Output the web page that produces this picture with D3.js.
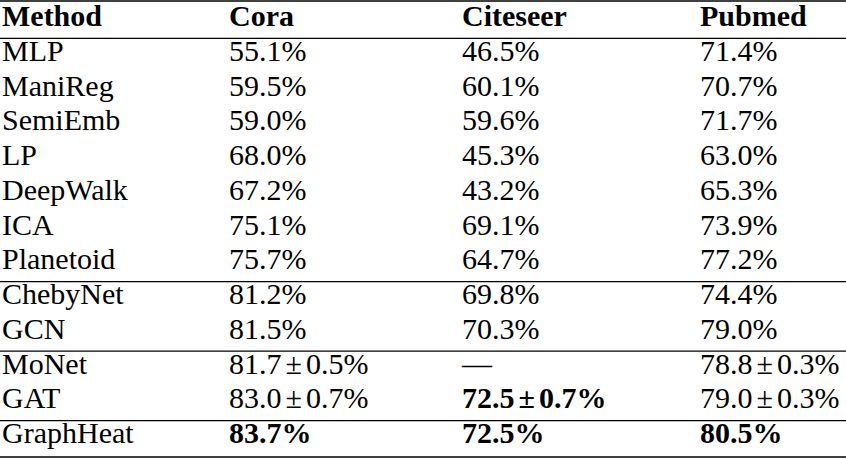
<!DOCTYPE html>
<html>
<head>
<meta charset="utf-8">
<script src="https://cdn.jsdelivr.net/npm/d3@7"></script>
<style>
  body { margin: 0; background: #fff; }
  svg { display: block; }
  text { font-family: "Liberation Serif", "Times New Roman", serif; font-size: 30px; fill: #000; }
</style>
</head>
<body>
<div id="table"></div>
<script>
const headers = ['Method', 'Cora', 'Citeseer', 'Pubmed']
const methods = ['MLP', 'ManiReg', 'SemiEmb', 'LP', 'DeepWalk', 'ICA', 'Planetoid',
                 'ChebyNet', 'GCN', 'MoNet', 'GAT', 'GraphHeat']
const cora = [55.1, 59.5, 59.0, 68.0, 67.2, 75.1, 75.7, 81.2, 81.5, 81.7, 83.0, 83.7]
const citeseer = [46.5, 60.1, 59.6, 45.3, 43.2, 69.1, 64.7, 69.8, 70.3, null, 72.5, 72.5]
const pubmed = [71.4, 70.7, 71.7, 63.0, 65.3, 73.9, 77.2, 74.4, 79.0, 78.8, 79.0, 80.5]
const coraStd = [null, null, null, null, null, null, null, null, null, 0.5, 0.7, null]
const citeseerStd = [null, null, null, null, null, null, null, null, null, null, 0.7, null]
const pubmedStd = [null, null, null, null, null, null, null, null, null, 0.3, 0.3, null]
// rules drawn under these row indices (0 = header)
const groupBreaks = [0, 7, 9, 11]

window.onload = function() {
  let w = 846,
    h = 460;

  const svg = d3.select("#table")
      .append("svg")
        .attr("width", w)
        .attr("height", h)

  let yScale = d3.scaleLinear()
      .domain([0, methods.length])
      .range([26, 443])

  let xScale = d3.scaleOrdinal()
      .domain(headers)
      .range([2, 229, 462, 700])

  let columns = [
    {key: 'Cora', values: cora, std: coraStd},
    {key: 'Citeseer', values: citeseer, std: citeseerStd},
    {key: 'Pubmed', values: pubmed, std: pubmedStd}
  ]

  // header
  svg.append("g").selectAll("text")
      .data(headers)
      .enter().append("text")
        .attr("x", function(d) { return xScale(d); })
        .attr("y", yScale(0))
        .attr("font-weight", "bold")
        .text(function(d) { return d; })

  // method names
  svg.append("g").selectAll("text")
      .data(methods)
      .enter().append("text")
        .attr("x", xScale('Method'))
        .attr("y", function(d, i) { return yScale(i + 1); })
        .text(function(d) { return d; })

  // value cells, best per column in bold
  columns.forEach(function(col) {
    let best = d3.max(col.values)
    let cells = svg.append("g").selectAll("text")
        .data(col.values)
        .enter().append("text")
          .attr("x", xScale(col.key))
          .attr("y", function(d, i) { return yScale(i + 1); })
          .attr("font-weight", function(d) { return d === best ? "bold" : "normal"; })

    cells.each(function(d, i) {
      let t = d3.select(this)
      if (d === null) {
        t.text("\u2014");
        return;
      }
      if (col.std[i] === null) {
        t.text(d.toFixed(1) + "%");
        return;
      }
      // math-style spacing around the ±
      t.append("tspan").text(d.toFixed(1))
      t.append("tspan").attr("dx", 4).text("\u00b1")
      t.append("tspan").attr("dx", 4).text(col.std[i].toFixed(1) + "%")
    })
  })

  // rules
  let step = yScale(1) - yScale(0)
  let rules = groupBreaks.map(function(r) {
    return {y: yScale(r) + step / 2 - 5, width: 1.3};
  })
  rules.push({y: 1, width: 1.6})
  rules.push({y: 457, width: 1.6})

  svg.append("g").selectAll("line")
      .data(rules)
      .enter().append("line")
        .attr("x1", 0)
        .attr("x2", w)
        .attr("y1", function(d) { return d.y; })
        .attr("y2", function(d) { return d.y; })
        .attr("stroke", "#000")
        .attr("stroke-width", function(d) { return d.width; })
}
</script>
</body>
</html>
